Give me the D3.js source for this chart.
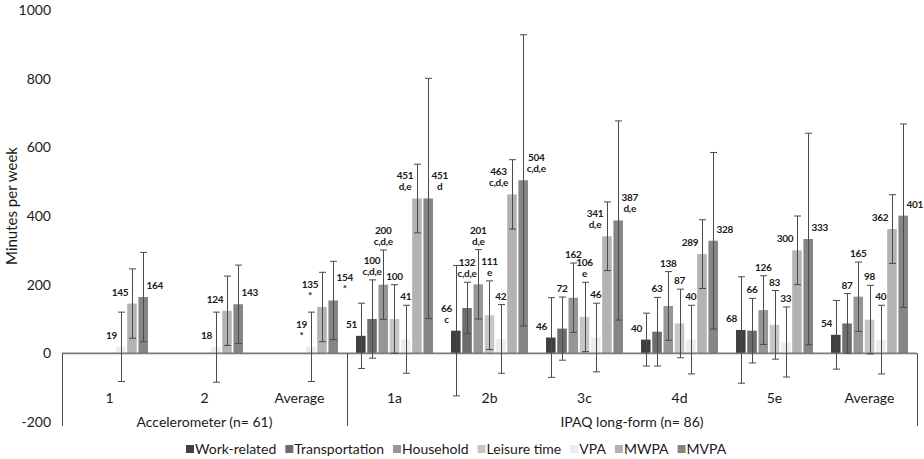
<!DOCTYPE html>
<html>
<head>
<meta charset="utf-8">
<script src="https://cdn.jsdelivr.net/npm/d3@7/dist/d3.min.js"></script>
<style>
  html, body { margin: 0; padding: 0; background: #fff; }
  svg { display: block; font-family: Lato, "Open Sans", sans-serif; }
</style>
</head>
<body>
<svg id="chart" width="924" height="459"></svg>
<script>
// ---------------- DATA ----------------
const series = ["Work-related", "Transportation", "Household", "Leisure time", "VPA", "MWPA", "MVPA"];
const categories = ["1", "2", "Average", "1a", "2b", "3c", "4d", "5e", "Average"];
const groups = ["Accelerometer (n= 61)", "IPAQ long-form (n= 86)"];
const categoryGroup = [0, 0, 0, 1, 1, 1, 1, 1, 1];
const yTicks = [-200, 0, 200, 400, 600, 800, 1000];

// means (minutes per week), null = not measured
const workRelated    = [null, null, null, 51, 66, 46, 40, 68, 54];
const transportation = [null, null, null, 100, 132, 72, 63, 66, 87];
const household      = [null, null, null, 200, 201, 162, 138, 126, 165];
const leisureTime    = [null, null, null, 100, 111, 106, 87, 83, 98];
const vpa            = [19, 18, 19, 41, 42, 46, 40, 33, 40];
const mwpa           = [145, 124, 135, 451, 463, 341, 289, 300, 362];
const mvpa           = [164, 143, 154, 451, 504, 387, 328, 333, 401];

// standard deviations (error bars)
const workRelatedSD    = [null, null, null, 95, 190, 116, 77, 155, 100];
const transportationSD = [null, null, null, 114, 75, 92, 100, 94, 87];
const householdSD      = [null, null, null, 101, 101, 101, 100, 100, 101];
const leisureTimeSD    = [null, null, null, 100, 100, 101, 100, 100, 100];
const vpaSD            = [101, 102, 101, 99, 100, 100, 100, 102, 100];
const mwpaSD           = [101, 101, 101, 100, 101, 100, 100, 100, 100];
const mvpaSD           = [130, 114, 114, 350, 424, 290, 257, 308, 267];

// significance notes under the value labels
const workRelatedNote    = ["", "", "", "", "c", "", "", "", ""];
const transportationNote = ["", "", "", "c,d,e", "c,d,e", "", "", "", ""];
const householdNote      = ["", "", "", "c,d,e", "d,e", "", "", "", ""];
const leisureTimeNote    = ["", "", "", "", "e", "e", "", "", ""];
const vpaNote            = ["", "", "*", "", "", "", "", "", ""];
const mwpaNote           = ["", "", "*", "d,e", "c,d,e", "d,e", "", "", ""];
const mvpaNote           = ["", "", "*", "d", "c,d,e", "d,e", "", "", ""];

const values = [workRelated, transportation, household, leisureTime, vpa, mwpa, mvpa];
const sds = [workRelatedSD, transportationSD, householdSD, leisureTimeSD, vpaSD, mwpaSD, mvpaSD];
const notes = [workRelatedNote, transportationNote, householdNote, leisureTimeNote, vpaNote, mwpaNote, mvpaNote];

// ---------------- STYLE ----------------
const colors = ["#3f3f3f", "#6d6d6d", "#969696", "#c6c6c6", "#ececec", "#b3b3b3", "#858585"];
// label placement: L = left of whisker, R = right of whisker, T = above the error bar
const labelSide = ["L", "T", "T", "T", "T", "L", "R"];
const labelSideGroup0 = { 4: "L" };

const plot = { left: 62, right: 917, top: 10, bottom: 422 };

const svg = d3.select("#chart");

const keys = categories.map((c, i) => i);
const x0 = d3.scaleBand().domain(keys).range([plot.left, plot.right])
  .paddingInner(0.19).paddingOuter(0.095);
const x1 = d3.scaleBand().domain(series.map((s, i) => i)).range([0, x0.bandwidth()])
  .paddingInner(0.15);
const y = d3.scaleLinear().domain([-200, 1000]).range([plot.bottom, plot.top]);

// flat records
const records = [];
categories.forEach((c, ci) => {
  series.forEach((s, si) => {
    const v = values[si][ci];
    if (v === null) return;
    records.push({ ci, si, v, sd: sds[si][ci], note: notes[si][ci] });
  });
});

// y axis labels (no line)
const yAxis = d3.axisLeft(y).tickValues(yTicks).tickSize(0).tickPadding(0).tickFormat(d => String(d));
const yg = svg.append("g").attr("transform", `translate(${plot.left - 11},0)`).call(yAxis);
yg.select(".domain").remove();
yg.selectAll("text").attr("font-size", 14).attr("fill", "#1a1a1a")
  .attr("font-family", "Lato, sans-serif");

// y title
svg.append("text")
  .attr("transform", `translate(17,${(plot.top + plot.bottom) / 2 - 10}) rotate(-90)`)
  .attr("text-anchor", "middle").attr("font-size", 15).attr("fill", "#1a1a1a")
  .text("Minutes per week");

// bars
const gBars = svg.append("g");
gBars.selectAll("rect").data(records).join("rect")
  .attr("x", d => x0(d.ci) + x1(d.si))
  .attr("width", x1.bandwidth())
  .attr("y", d => y(Math.max(0, d.v)))
  .attr("height", d => Math.abs(y(d.v) - y(0)))
  .attr("fill", d => colors[d.si]);

// x axis line
const y0 = y(0);
svg.append("line").attr("x1", plot.left).attr("x2", plot.right)
  .attr("y1", y0).attr("y2", y0).attr("stroke", "#7a7a7a").attr("stroke-width", 1.6);

// group separators
const step = x0.step();
const bounds = [plot.left];
let acc = 0;
groups.forEach((g, gi) => {
  acc += categoryGroup.filter(k => k === gi).length;
  bounds.push(plot.left + acc * step);
});
svg.append("g").selectAll("line").data(bounds).join("line")
  .attr("x1", d => Math.round(d) + 0.5).attr("x2", d => Math.round(d) + 0.5)
  .attr("y1", y0).attr("y2", 426)
  .attr("stroke", "#4a4a4a").attr("stroke-width", 1);

// error bars
const cap = 3.5;
const gErr = svg.append("g").attr("stroke", "#4a4a4a").attr("stroke-width", 1).attr("fill", "none");
records.forEach(d => {
  const cx = Math.round(x0(d.ci) + x1(d.si) + x1.bandwidth() / 2) + 0.5;
  const yt = y(d.v + d.sd), yb = y(d.v - d.sd);
  gErr.append("line").attr("x1", cx).attr("x2", cx).attr("y1", yt).attr("y2", yb);
  gErr.append("line").attr("x1", cx - cap).attr("x2", cx + cap).attr("y1", yt).attr("y2", yt);
  gErr.append("line").attr("x1", cx - cap).attr("x2", cx + cap).attr("y1", yb).attr("y2", yb);
});

// value labels
const lineH = 11;
const gLab = svg.append("g").attr("font-size", 10).attr("fill", "#1a1a1a")
  .attr("font-family", "Lato, sans-serif").attr("letter-spacing", -0.3)
  .attr("text-anchor", "middle").attr("font-weight", "bold");
records.forEach(d => {
  const cx = x0(d.ci) + x1(d.si) + x1.bandwidth() / 2;
  let side = labelSide[d.si];
  if (categoryGroup[d.ci] === 0 && labelSideGroup0[d.si]) side = labelSideGroup0[d.si];
  const lines = [String(d.v)];
  if (d.note) lines.push(d.note);
  const t = gLab.append("text");
  lines.forEach((ln, i) => t.append("tspan").attr("x", 0).attr("dy", i === 0 ? 0 : lineH).text(ln));
  const w = t.node().getBBox().width;
  const n = lines.length;
  let tx, baseBottom;
  if (side === "T") {
    tx = cx;
    baseBottom = y(d.v + d.sd) - 5;
  } else {
    tx = side === "L" ? cx - 3.5 - w / 2 : cx + 3 + w / 2;
    baseBottom = y(d.v) - 8;
  }
  const firstBase = baseBottom - (n - 1) * lineH;
  t.attr("transform", `translate(${tx},${firstBase})`);
});

// category labels
svg.append("g").selectAll("text").data(keys).join("text")
  .attr("x", d => x0(d) + x0.bandwidth() / 2).attr("y", 403)
  .attr("text-anchor", "middle").attr("font-size", 14).attr("fill", "#1a1a1a")
  .text(d => categories[d]);

// group labels
svg.append("g").selectAll("text").data(groups).join("text")
  .attr("x", (g, gi) => (bounds[gi] + bounds[gi + 1]) / 2).attr("y", 427)
  .attr("text-anchor", "middle").attr("font-size", 14).attr("fill", "#1a1a1a")
  .text(d => d);

// legend
const gLeg = svg.append("g");
let lx = 186;
series.forEach((s, si) => {
  gLeg.append("rect").attr("x", lx).attr("y", 445).attr("width", 8).attr("height", 8)
    .attr("fill", colors[si]);
  const t = gLeg.append("text").attr("x", lx + 9).attr("y", 454)
    .attr("font-size", 14).attr("fill", "#1a1a1a").text(s);
  lx += 9 + t.node().getComputedTextLength() + 9;
});
</script>
</body>
</html>
